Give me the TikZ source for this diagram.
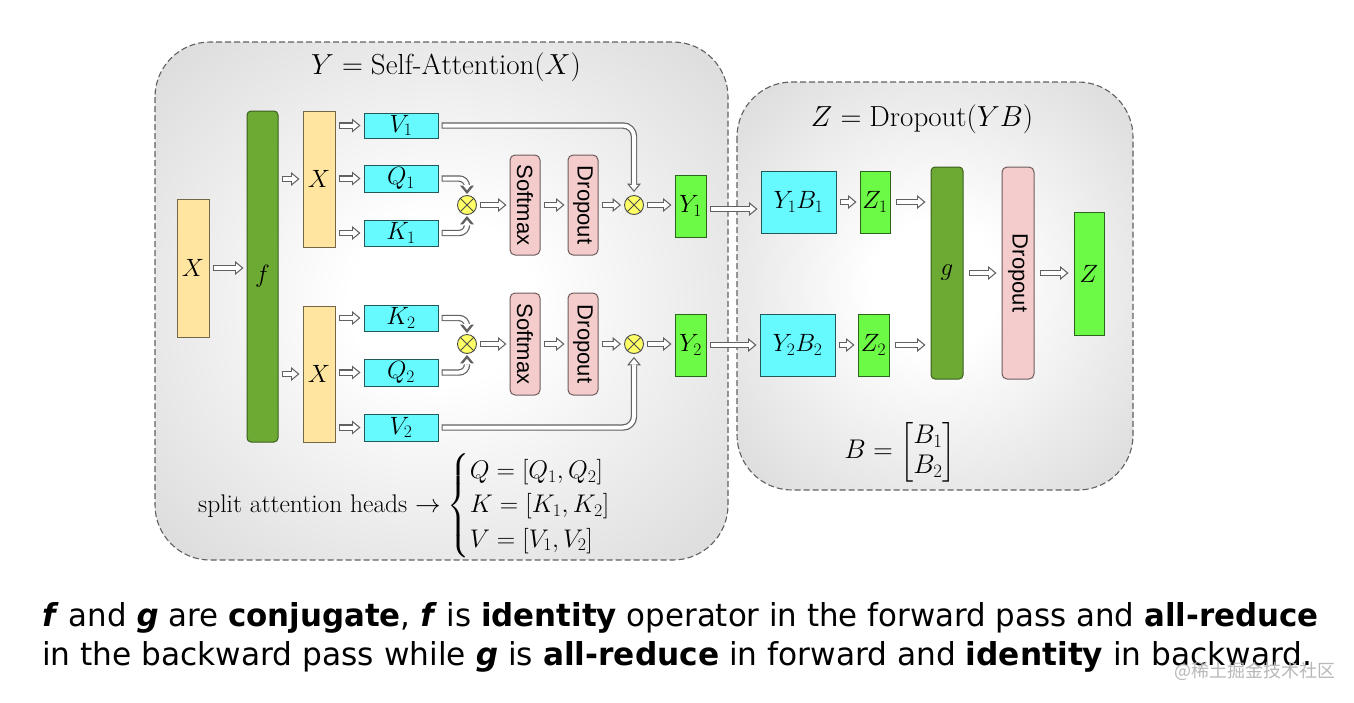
\RequirePackage{fix-cm}
\documentclass[tikz,border=0pt]{standalone}
\usepackage{amsmath}
\usepackage{fontspec}
\usepackage{graphicx}
\newfontfamily\capfont{DejaVu Sans}
\newfontfamily\boxsans{Liberation Sans}
\newfontfamily\cjkfont{Noto Sans CJK SC}
\usetikzlibrary{arrows.meta}
\definecolor{cyanbox}{RGB}{102,250,255}
\definecolor{tanbox}{RGB}{255,229,160}
\definecolor{darkg}{RGB}{108,170,52}
\definecolor{brightg}{RGB}{108,250,70}
\definecolor{pinkbox}{RGB}{244,204,204}
\definecolor{yellowot}{RGB}{255,255,102}
\definecolor{edgec}{RGB}{55,55,55}
\pgfdeclareradialshading{panelshade}{\pgfpoint{0bp}{0bp}}{color(0bp)=(white); color(8bp)=(white); color(50bp)=(black!22); color(72bp)=(black!28)}
\tikzset{
  panel/.style={draw=black!62, dash pattern=on 6pt off 3pt, line width=1.1pt, rounded corners=55pt, shading=panelshade},
  bx/.style={draw=edgec, line width=1pt, inner sep=0pt, font=\fontsize{25}{28}\selectfont},
  tanb/.style={bx, fill=tanbox, draw=tanbox!45!black},
  cyanb/.style={bx, fill=cyanbox, draw=cyanbox!35!black},
  brightb/.style={bx, fill=brightg, draw=brightg!40!black},
  darkb/.style={bx, fill=darkg, draw=darkg!55!black, rounded corners=4pt},
  pinkb/.style={bx, fill=pinkbox, draw=pinkbox!45!black, rounded corners=5pt, font=\boxsans\fontsize{22}{24}\selectfont},
  otn/.style={circle, draw=black!70, line width=0.9pt, fill=yellowot, minimum size=19pt, inner sep=0pt},
  arrS/.style={draw=black!62, line width=6.4pt,
    -{Triangle[length=8.5pt, width=14pt, line width=0pt]},
    shorten <=#1, shorten >=#1,
    postaction={draw=white, line width=4pt,
      -{Triangle[length=5.4pt, width=8.9pt, line width=0pt]},
      shorten <=#1+1.2pt, shorten >=#1+1.9pt}},
  arr/.style={arrS=3pt},
  carr/.style={arr, rounded corners=11pt},
  sarr/.style={arrS=3pt, shorten >=1pt, postaction={shorten >=2.9pt}, rounded corners=8pt},
  ttl/.style={font=\fontsize{29}{32}\selectfont, inner sep=0pt},
}
\newcommand{\otcross}[1]{\draw[black!70, line width=0.9pt] (#1.north east) -- (#1.south west) (#1.north west) -- (#1.south east);}
\begin{document}
\begin{tikzpicture}[x=1pt,y=-1pt]
\useasboundingbox[fill=white] (0,0) rectangle (1354,702);
% panels
\path[panel] (155,42) rectangle (728,560);
\path[panel] (737,82) rectangle (1133,490);
\node[ttl] (t1) at (446,67) {$Y = \mathrm{Self\text{-}Attention}(X)$};
\node[ttl] (t2) at (922,119) {$Z = \mathrm{Dropout}(YB)$};
% left part
\node[tanb, minimum width=32pt, minimum height=138pt] (X0) at (193,268) {$X$};
\node[darkb, minimum width=31pt, minimum height=331pt] (f) at (262.5,276.5) {$f$};
\node[tanb, minimum width=32pt, minimum height=136pt] (X1) at (319,179) {$X$};
\node[tanb, minimum width=32pt, minimum height=136pt] (X2) at (319,374) {$X$};
\node[cyanb, minimum width=74pt, minimum height=25pt] (V1) at (401,125.5) {$V_1$};
\node[cyanb, minimum width=74pt, minimum height=27pt] (Q1) at (401,178.5) {$Q_1$};
\node[cyanb, minimum width=74pt, minimum height=26pt] (K1) at (401,233) {$K_1$};
\node[cyanb, minimum width=74pt, minimum height=26pt] (K2) at (401,318) {$K_2$};
\node[cyanb, minimum width=74pt, minimum height=27pt] (Q2) at (401,372.5) {$Q_2$};
\node[cyanb, minimum width=74pt, minimum height=27pt] (V2) at (401,427.5) {$V_2$};
\node[otn] (o1) at (467,205) {};
\node[otn] (o2) at (634,205) {};
\node[otn] (o3) at (467,344) {};
\node[otn] (o4) at (634,344) {};
\otcross{o1}\otcross{o2}\otcross{o3}\otcross{o4}
\node[pinkb, minimum width=30pt, minimum height=100pt] (s1) at (525,205) {\rotatebox{-90}{Softmax}};
\node[pinkb, minimum width=30pt, minimum height=100pt] (d1) at (583,205) {\rotatebox{-90}{Dropout}};
\node[pinkb, minimum width=30pt, minimum height=102pt] (s2) at (525,344) {\rotatebox{-90}{Softmax}};
\node[pinkb, minimum width=30pt, minimum height=102pt] (d2) at (583,344) {\rotatebox{-90}{Dropout}};
\node[brightb, minimum width=31pt, minimum height=62pt] (Y1) at (690.5,206) {$Y_1$};
\node[brightb, minimum width=31pt, minimum height=62pt] (Y2) at (690.5,345) {$Y_2$};
% right part
\node[cyanb, minimum width=75pt, minimum height=62pt] (YB1) at (798.5,202) {$Y_1B_1$};
\node[brightb, minimum width=30pt, minimum height=62pt] (Z1) at (875,202) {$Z_1$};
\node[cyanb, minimum width=75pt, minimum height=62pt] (YB2) at (797.5,345) {$Y_2B_2$};
\node[brightb, minimum width=31pt, minimum height=62pt] (Z2) at (873.5,345) {$Z_2$};
\node[darkb, minimum width=32pt, minimum height=212pt] (g) at (947,273) {$g$};
\node[pinkb, minimum width=32pt, minimum height=212pt] (d3) at (1018,273) {\rotatebox{-90}{Dropout}};
\node[brightb, minimum width=30pt, minimum height=123pt] (Z) at (1089,273.5) {$Z$};
% arrows
\draw[arr] (X0.east) -- (X0.east -| f.west);
\draw[arr] (X1.west -| f.east) -- (X1.west);
\draw[arr] (X2.west -| f.east) -- (X2.west);
\foreach \n in {V1,Q1,K1} {\draw[arr] (\n.west -| X1.east) -- (\n.west);}
\foreach \n in {K2,Q2,V2} {\draw[arr] (\n.west -| X2.east) -- (\n.west);}
\draw[sarr] (Q1.east) -| (o1.north);
\draw[sarr] (K1.east) -| (o1.south);
\draw[carr] (V1.east) -| (o2.north);
\draw[sarr] (K2.east) -| (o3.north);
\draw[sarr] (Q2.east) -| (o3.south);
\draw[carr] (V2.east) -| (o4.south);
\draw[arr] (o1.east) -- (o1.east -| s1.west);
\draw[arr] (s1.east) -- (s1.east -| d1.west);
\draw[arr] (d1.east) -- (o2.west);
\draw[arr] (o2.east) -- (o2.east -| Y1.west);
\draw[arr] (o3.east) -- (o3.east -| s2.west);
\draw[arr] (s2.east) -- (s2.east -| d2.west);
\draw[arr] (d2.east) -- (o4.west);
\draw[arr] (o4.east) -- (o4.east -| Y2.west);
\draw[arr] ([yshift=-3pt]Y1.east) -- ([yshift=-3pt]Y1.east -| YB1.west);
\draw[arr] (Y2.east) -- (Y2.east -| YB2.west);
\draw[arr] (YB1.east) -- (YB1.east -| Z1.west);
\draw[arr] (YB2.east) -- (YB2.east -| Z2.west);
\draw[arrS=5pt] (Z1.east) -- (Z1.east -| g.west);
\draw[arrS=5pt] (Z2.east) -- (Z2.east -| g.west);
\draw[arrS=5pt] (g.east) -- (g.east -| d3.west);
\draw[arrS=5pt] (d3.east) -- (d3.east -| Z.west);
% formulas
\node[font=\fontsize{25.5}{28.5}\selectfont, inner sep=0pt] (split) at (417,506) {split attention heads $\rightarrow \begin{cases} Q=[Q_1,Q_2]\\ K=[K_1,K_2]\\ V=[V_1,V_2]\end{cases}$};
\node[font=\fontsize{27}{30}\selectfont, inner sep=0pt] (Bm) at (900,452) {$B = \begin{bmatrix} B_1\\ B_2\end{bmatrix}$};
% caption
\node[anchor=base west, inner sep=0pt] (c1) at (42,626) {\resizebox{1276pt}{24pt}{\capfont \textbf{\textit{f}} and \textbf{\textit{g}} are \textbf{conjugate}, \textbf{\textit{f}} is \textbf{identity} operator in the forward pass and \textbf{all-reduce}}};
\node[anchor=base west, inner sep=0pt] (c2) at (42,665) {\resizebox{1270pt}{24pt}{\capfont in the backward pass while \textbf{\textit{g}} is \textbf{all-reduce} in forward and \textbf{identity} in backward.}};
\node[anchor=base east, inner sep=0pt, text=black!28, font=\cjkfont\fontsize{18}{20}\selectfont] (wm) at (1336,677) {@稀土掘金技术社区};
\end{tikzpicture}
\end{document}
